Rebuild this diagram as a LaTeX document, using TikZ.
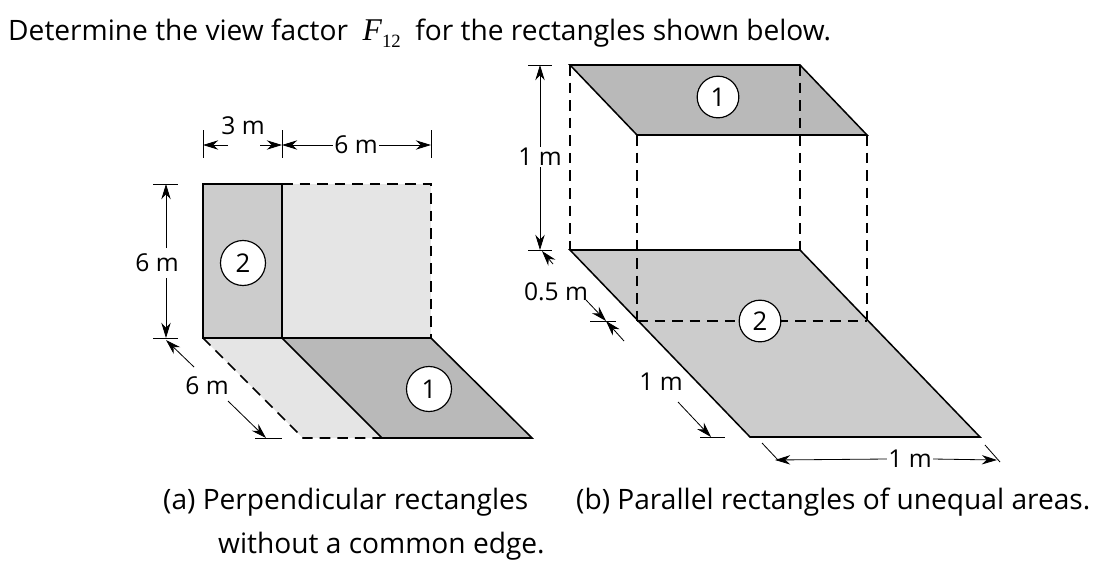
\documentclass[tikz,border=0pt]{standalone}
\usepackage{fontspec}
\setmainfont{Open Sans}
\newfontfamily\tms{Liberation Serif}
\usetikzlibrary{arrows.meta}
\begin{document}
\begin{tikzpicture}[x=0.03cm,y=-0.03cm,
  edge/.style={line width=1.3pt},
  dsh/.style={line width=1.3pt,dash pattern=on 9pt off 6pt},
  dim/.style={line width=0.7pt},
  arr/.style={dim,-{Stealth[length=13pt,width=8pt]}},
  num/.style={circle,draw,line width=1pt,fill=white,minimum size=1.35cm,inner sep=0pt,font=\fontsize{22}{22}\selectfont},
  lab/.style={font=\fontsize{21}{21}\selectfont,inner sep=1pt},
  captxt/.style={font=\fontsize{24}{24}\selectfont,anchor=west,inner sep=0pt}]
\useasboundingbox (0,0) rectangle (1120,580);
\node[captxt] (title) at (8,33) {Determine the view factor \ {\tms\itshape\fontsize{27}{27}\selectfont F}\raisebox{-6pt}{\tms\fontsize{16}{16}\selectfont 12}\ \ for the rectangles shown below.};
% ---- (a) ----
\fill[gray!20] (282,184) rectangle (431,338);
\fill[gray!20] (203,338) -- (282,338) -- (382,438) -- (303,438) -- cycle;
\fill[gray!40] (203,184) rectangle (282,338);
\fill[gray!55] (282,338) -- (431,338) -- (532,438) -- (382,438) -- cycle;
\draw[edge] (203,184) rectangle (282,338);
\draw[dsh] (282,184) -- (431,184) -- (431,338);
\draw[edge] (282,338) -- (431,338) -- (532,438) -- (382,438) -- cycle;
\draw[dsh] (203,338) -- (303,438) -- (382,438);
\node[num] (c2a) at (243,263) {2};
\node[num] (c1a) at (429,389) {1};
% dims (a)
\draw[dim] (203,130) -- (203,158) (282,130) -- (282,158) (431,130) -- (431,158);
\coordinate (a1) at (203,145); \coordinate (a2) at (282,145); \coordinate (a3) at (431,145);
\draw[arr] (228,145) -- (a1);
\draw[arr] (260,145) -- (a2);
\node[lab] (l3) at (243,126) {3 m};
\node[lab] (l6t) at (356,145) {6 m};
\draw[arr] (l6t.west) -- (a2);
\draw[arr] (l6t.east) -- (a3);
\draw[dim] (153,184) -- (178,184) (153,338) -- (178,338);
\coordinate (b1) at (166,184); \coordinate (b2) at (166,338);
\node[lab,fill=white] (l6l) at (157,263) {6 m};
\draw[arr] (166,248) -- (b1);
\draw[arr] (166,278) -- (b2);
\draw[dim] (255,438) -- (282,438);
\coordinate (d1) at (166,340); \coordinate (d2) at (266,438);
\node[lab] (l6d) at (207,386) {6 m};
\draw[arr] (194,367) -- (d1);
\draw[arr] (228,401) -- (d2);
% ---- (b) ----
\fill[gray!40] (570,250) -- (800,250) -- (980,437) -- (750,437) -- cycle;
\fill[gray!55] (570,65) -- (800,65) -- (867,135) -- (637,135) -- cycle;
\draw[dsh] (570,65) -- (570,250) (800,65) -- (800,250) (637,135) -- (637,321) (867,135) -- (867,321);
\draw[edge] (570,65) -- (800,65) -- (867,135) -- (637,135) -- cycle;
\draw[edge] (570,250) -- (800,250) -- (980,437) -- (750,437) -- cycle;
\draw[dsh] (637,321) -- (867,321);
\node[num,minimum size=1.25cm] (c1b) at (718,97) {1};
\node[num,minimum size=1.25cm] (c2b) at (760,321) {2};
% dims (b)
\draw[dim] (528,65) -- (552,65) (528,250) -- (552,250);
\coordinate (e1) at (540,65); \coordinate (e2) at (540,250);
\node[lab,fill=white] (l1v) at (540,157) {1 m};
\draw[arr] (l1v.north) -- (e1);
\draw[arr] (l1v.south) -- (e2);
\draw[dim] (590,321) -- (616,321) (700,437) -- (725,437);
\coordinate (f1) at (542,251); \coordinate (f2) at (606,321); \coordinate (f3) at (711,437);
\node[lab] (l05) at (556,292) {0.5 m};
\draw[arr] (553,264) -- (f1);
\draw[arr] (586,300) -- (f2);
\draw[arr] (624,341) -- (f2);
\node[lab] (l1d) at (661,382) {1 m};
\draw[arr] (678,402) -- (f3);
\draw[dim] (762,443) -- (778,460) (985,445) -- (1000,462);
\coordinate (g1) at (775,460); \coordinate (g2) at (997,460);
\node[lab] (l1h) at (910,459) {1 m};
\draw[arr] (l1h.west) -- (g1);
\draw[arr] (l1h.east) -- (g2);
% captions
\node[captxt] (capa1) at (163,502) {(a) Perpendicular rectangles};
\node[captxt] (capa2) at (218,546) {without a common edge.};
\node[captxt] (capb) at (576,502) {(b) Parallel rectangles of unequal areas.};
\end{tikzpicture}
\end{document}
